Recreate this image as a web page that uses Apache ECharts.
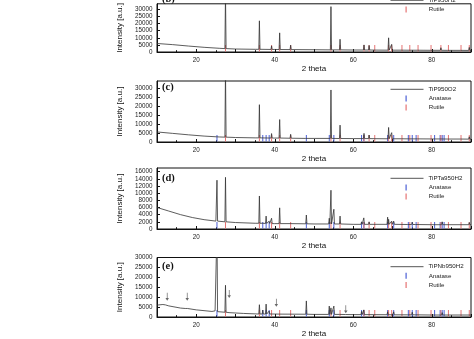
<!DOCTYPE html>
<html><head><meta charset="utf-8">
<script src="https://cdn.jsdelivr.net/npm/echarts@6/dist/echarts.min.js"></script>
<style>html,body{margin:0;padding:0;background:#fff}#c{width:474px;height:339px}</style>
</head><body><div id="c"></div>
<script>
// ---------- data ----------
const sampleNames = ['TiP950H2', 'TiP950O2', 'TiPTa950H2', 'TiPNb950H2'];
const panelLabels = ['(b)', '(c)', '(d)', '(e)'];
const xTickLabels = [20, 40, 60, 80];
const yMaxima = [34000, 34000, 17000, 30000];
const ySteps = [5000, 5000, 2000, 5000];

// reference reflection positions (2 theta)
const rutileRef = [27.45, 36.09, 39.19, 41.25, 44.05, 54.32, 56.64, 62.74, 64.04, 65.48, 69.01, 69.79, 72.41, 74.41, 76.51, 79.82, 82.33, 84.25, 87.46, 89.56];
const anataseRef = [25.28, 36.95, 37.80, 38.58, 48.05, 53.89, 55.06, 62.12, 62.69, 68.76, 70.31, 74.03, 75.03, 76.02, 80.73, 82.14, 82.66, 83.15];

// background [2theta, intensity]
const bBackground = [[10,6000],[14,5200],[18,4200],[22,3300],[26,2600],[30,2100],[35,1900],[40,1800],[50,1600],[60,1400],[70,1300],[80,1200],[90,1100]];
const cBackground = [[10,5600],[14,4800],[18,4000],[22,3300],[26,2800],[30,2500],[35,2300],[40,2200],[50,2000],[60,1900],[70,1800],[80,1700],[90,1600]];
const dBackground = [[10,6000],[13,5000],[16,4000],[19,3200],[22,2600],[25,2200],[30,1800],[35,1600],[40,1500],[50,1400],[60,1300],[70,1300],[80,1200],[90,1200]];
const eBackground = [[10,6000],[11.5,6300],[13,5600],[16,4500],[17.2,4300],[18,4200],[20,3600],[24,2800],[24.8,3100],[25.8,3000],[28,2200],[32,1800],[40,1500],[50,1300],[60,1200],[70,1100],[80,1000],[90,1000]];

// peaks [2theta, top intensity, foot intensity]
const bPeaks = [[27.45,40000,2400],[36.09,22000,1900],[39.19,4300,1800],[41.25,13500,1750],[44.05,4800,1700],[54.32,32000,1500],[56.64,9000,1500],[62.74,5000,1400],[64.04,4600,1400],[65.48,2300,1350],[69.01,10000,1300],[69.79,5400,1300],[72.41,2400,1300],[74.41,2200,1250],[76.51,2600,1250],[79.82,2300,1200],[82.33,3000,1200],[84.25,2500,1150],[87.46,1900,1150],[89.56,3200,1100]];
const cPeaks = [[25.28,3200,2900],[27.45,40000,2700],[36.09,20800,2300],[39.19,4700,2200],[41.25,12500,2200],[44.05,4300,2100],[48.05,2900,2000],[54.32,29000,2000],[56.64,9400,1950],[62.74,4800,1900],[64.04,3900,1900],[65.48,2300,1850],[69.01,8100,1800],[69.79,5200,1800],[72.41,2300,1800],[74.41,2400,1750],[76.51,2300,1750],[79.82,2100,1700],[82.33,2700,1700],[84.25,2300,1650],[87.46,1900,1650],[89.56,2900,1600]];
const dPeaks = [[25.28,13600,2200],[27.45,14400,2000],[36.09,9200,1600],[36.95,1900,1600],[37.80,3600,1550],[38.58,2200,1550],[39.19,3000,1500],[41.25,5900,1500],[44.05,2000,1500],[48.05,3900,1450],[53.89,3000,1400],[54.32,10800,1400],[55.06,5500,1400],[56.64,3600,1400],[62.12,2000,1300],[62.69,3100,1300],[64.04,2000,1300],[68.76,3300,1300],[69.01,2700,1300],[69.79,2200,1300],[70.31,2200,1300],[74.03,1700,1250],[75.03,1900,1250],[76.02,1700,1250],[82.66,2000,1200],[89.56,1800,1200]];
const ePeaks = [[12.3,6700,6100],[17.6,4900,4300],[25.28,45000,2700],[27.45,16000,2400],[28.5,2600,2200],[36.09,6200,1500],[36.95,3500,1500],[37.80,6500,1500],[38.58,3000,1500],[39.19,2000,1500],[41.25,2300,1450],[48.05,8100,1400],[53.89,5500,1300],[54.32,4600,1300],[55.06,5500,1300],[56.64,1800,1300],[58.2,1800,1250],[62.12,2800,1200],[62.69,3600,1200],[68.76,2600,1150],[70.31,2600,1100],[74.03,2000,1100],[75.03,2400,1100],[76.02,1800,1100],[80.73,1800,1000],[82.66,2200,1000],[83.15,1900,1000]];

// impurity arrows in panel (e) [2theta, intensity]
const eArrows = [[12.6,10200],[17.7,10200],[28.4,11600],[40.4,7200],[58.1,3900]];

// ---------- chart ----------
const PEAK_HALF_WIDTH = 0.15;
function buildCurve(background, peaks) {
  const pts = background.map(p => [p[0], p[1]]);
  peaks.forEach(([pos, top, foot]) => {
    pts.push([pos - PEAK_HALF_WIDTH, foot], [pos, top], [pos + PEAK_HALF_WIDTH, foot]);
  });
  return pts.sort((a, b) => a[0] - b[0]);
}
const curves = [buildCurve(bBackground, bPeaks), buildCurve(cBackground, cPeaks), buildCurve(dBackground, dPeaks), buildCurve(eBackground, ePeaks)];
const showAnatase = [false, true, true, true];

const gridTops = [-9, 81, 168, 257.5];
const gridH = 61;
const lineLegendY = [0.3, 89.3, 178.3, 266.7];
const panelLabelY = [0, 88, 178.5, 266.5];

const FONT = 'Liberation Sans, Arial, sans-serif';
const ANATASE = '#4b5fd6';
const RUTILE = '#e57373';

const grid = [], xAxis = [], yAxis = [], series = [], legend = [], title = [];

function tickSeries(name, xs, idx, color) {
  return {
    type: 'custom', name, xAxisIndex: idx, yAxisIndex: idx, silent: true, z: 3,
    itemStyle: { color },
    data: xs.map(x => [x, 0]),
    renderItem: (params, api) => {
      const p = api.coord([api.value(0), api.value(1)]);
      return { type: 'line', shape: { x1: p[0], y1: p[1] - 0.5, x2: p[0], y2: p[1] - 7 },
               style: { stroke: color, lineWidth: 1 } };
    }
  };
}

for (let i = 0; i < 4; i++) {
  grid.push({ left: 157, right: 1, top: gridTops[i], height: gridH, show: true,
              borderColor: '#111', borderWidth: 1, backgroundColor: 'transparent' });
  xAxis.push({
    type: 'value', gridIndex: i, min: 10, max: 90, interval: 10,
    name: '2 theta', nameLocation: 'middle', nameGap: 13,
    nameTextStyle: { fontFamily: FONT, fontSize: 8, color: '#111' },
    axisLine: { show: true, lineStyle: { color: '#111', width: 1 } },
    axisTick: { show: true, inside: true, length: 3, lineStyle: { color: '#111' } },
    minorTick: { show: true, splitNumber: 2, length: 1.8, lineStyle: { color: '#111' } },
    splitLine: { show: false },
    axisLabel: { fontFamily: FONT, fontSize: 6.3, color: '#222', margin: 5,
                 formatter: v => xTickLabels.includes(v) ? String(v) : '' }
  });
  yAxis.push({
    type: 'value', gridIndex: i, min: 0, max: yMaxima[i], interval: ySteps[i],
    name: 'Intensity [a.u.]', nameLocation: 'middle', nameGap: 25,
    nameTextStyle: { fontFamily: FONT, fontSize: 8, color: '#111' },
    axisLine: { show: true, lineStyle: { color: '#111', width: 1 } },
    axisTick: { show: true, inside: true, length: 3, lineStyle: { color: '#111' } },
    splitLine: { show: false },
    axisLabel: { fontFamily: FONT, fontSize: 6.3, color: '#222', margin: 4.5,
                 showMaxLabel: yMaxima[i] % ySteps[i] === 0,
                 formatter: v => String(v) }
  });
  series.push({
    type: 'line', name: sampleNames[i], xAxisIndex: i, yAxisIndex: i,
    data: curves[i], symbol: 'none', showSymbol: false, clip: true,
    lineStyle: { color: '#333', width: 0.8 }, itemStyle: { color: '#333' }, z: 4
  });
  const tickNames = [];
  if (showAnatase[i]) { series.push(tickSeries('Anatase', anataseRef, i, ANATASE)); tickNames.push('Anatase'); }
  series.push(tickSeries('Rutile', rutileRef, i, RUTILE)); tickNames.push('Rutile');

  legend.push({
    data: [sampleNames[i]], left: 390, top: lineLegendY[i] - 4.7, itemWidth: 33, itemHeight: 8,
    selectedMode: false, padding: 0,
    itemStyle: { opacity: 0, borderWidth: 0 },
    lineStyle: { color: '#555', width: 1, opacity: 1 },
    textStyle: { fontFamily: FONT, fontSize: 6.2, color: '#222', lineHeight: 9.4 }
  });
  legend.push({
    data: tickNames.map(n => ({ name: n, icon: 'rect' })), orient: 'vertical',
    left: 405.5, top: lineLegendY[i] + 9.2 - 4.7, itemWidth: 1.2, itemHeight: 6, itemGap: 0,
    selectedMode: false, padding: 0,
    textStyle: { fontFamily: FONT, fontSize: 6.2, color: '#222', lineHeight: 9.2, padding: [0, 0, 0, 17] }
  });
  title.push({
    text: panelLabels[i], left: 162, top: panelLabelY[i] - 6, padding: 0,
    textStyle: { fontFamily: 'Liberation Serif, DejaVu Serif, serif', fontWeight: 'bold', fontSize: 10.5, color: '#111' }
  });
}

series.push({
  type: 'scatter', name: 'impurity', xAxisIndex: 3, yAxisIndex: 3, data: eArrows,
  symbol: 'path://M1.6,0 L2.4,0 L2.4,6 L4,6 L2,9 L0,6 L1.6,6 Z', symbolSize: [3.5, 8],
  itemStyle: { color: '#444' }, silent: true, z: 5
});

const chart = echarts.init(document.getElementById('c'), null, { renderer: 'canvas' });
chart.setOption({ animation: false, backgroundColor: '#fff', grid, xAxis, yAxis, series, legend, title });
</script>
</body></html>
